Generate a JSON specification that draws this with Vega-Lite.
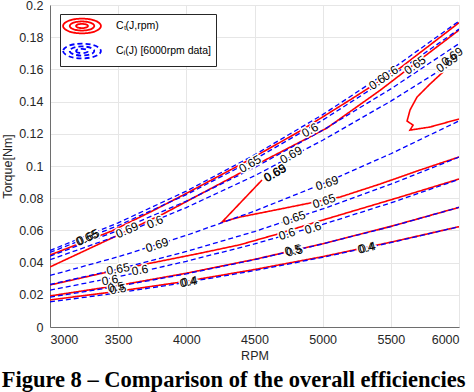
{
"$schema":"https://vega.github.io/schema/vega-lite/v6.json",
"width":409,"height":322,
"autosize":{"type":"none"},
"padding":{"left":50,"top":5,"right":15,"bottom":65},
"background":"white",
"config":{"view":{"stroke":"#e0e0e0","strokeWidth":1},"font":"Liberation Sans",
"axis":{"grid":true,"gridColor":"#e6e6e6","gridWidth":1,"domainColor":"#6e6e6e","domainWidth":1,"ticks":false,"labelFont":"Liberation Sans","labelFontSize":12.5,"labelColor":"#262626","titleFont":"Liberation Sans","titleFontSize":12.5,"titleFontWeight":"normal","titleColor":"#262626"}},
"title":{"text":"Figure 8 – Comparison of the overall efficiencies","orient":"bottom","anchor":"start","frame":"bounds","font":"Liberation Serif","fontSize":22.5,"fontWeight":"bold","color":"#000000","offset":7},
"datasets":{
"red":[
{"s":"CT","id":"R1","i":0,"x":3000,"y":0.0168},{"s":"CT","id":"R1","i":1,"x":3500,"y":0.0222},{"s":"CT","id":"R1","i":2,"x":4000,"y":0.0284},{"s":"CT","id":"R1","i":3,"x":4500,"y":0.0357},{"s":"CT","id":"R1","i":4,"x":5000,"y":0.0437},{"s":"CT","id":"R1","i":5,"x":5500,"y":0.0527},{"s":"CT","id":"R1","i":6,"x":6000,"y":0.0623},
{"s":"CT","id":"R2","i":0,"x":3000,"y":0.0193},{"s":"CT","id":"R2","i":1,"x":3500,"y":0.0258},{"s":"CT","id":"R2","i":2,"x":4000,"y":0.0334},{"s":"CT","id":"R2","i":3,"x":4500,"y":0.0420},{"s":"CT","id":"R2","i":4,"x":5000,"y":0.0517},{"s":"CT","id":"R2","i":5,"x":5500,"y":0.0625},{"s":"CT","id":"R2","i":6,"x":6000,"y":0.0743},
{"s":"CT","id":"R3","i":0,"x":3000,"y":0.0261},{"s":"CT","id":"R3","i":1,"x":3389,"y":0.0335},{"s":"CT","id":"R3","i":2,"x":3711,"y":0.0392},{"s":"CT","id":"R3","i":3,"x":4100,"y":0.0458},{"s":"CT","id":"R3","i":4,"x":4394,"y":0.0511},{"s":"CT","id":"R3","i":5,"x":4672,"y":0.0578},{"s":"CT","id":"R3","i":6,"x":4929,"y":0.0646},{"s":"CT","id":"R3","i":7,"x":5127,"y":0.0696},{"s":"CT","id":"R3","i":8,"x":5567,"y":0.0807},{"s":"CT","id":"R3","i":9,"x":6000,"y":0.0919},
{"s":"CT","id":"R4","i":0,"x":4555,"y":0.0913},{"s":"CT","id":"R4","i":1,"x":4262,"y":0.0652},{"s":"CT","id":"R4","i":2,"x":4394,"y":0.0683},{"s":"CT","id":"R4","i":3,"x":4614,"y":0.0720},{"s":"CT","id":"R4","i":4,"x":4907,"y":0.0770},{"s":"CT","id":"R4","i":5,"x":5127,"y":0.0807},{"s":"CT","id":"R4","i":6,"x":5421,"y":0.0888},{"s":"CT","id":"R4","i":7,"x":5714,"y":0.0975},{"s":"CT","id":"R4","i":8,"x":6000,"y":0.1056},
{"s":"CT","id":"R5","i":0,"x":3000,"y":0.0373},{"s":"CT","id":"R5","i":1,"x":3455,"y":0.0553},{"s":"CT","id":"R5","i":2,"x":3829,"y":0.0702},{"s":"CT","id":"R5","i":3,"x":4394,"y":0.0956},{"s":"CT","id":"R5","i":4,"x":5032,"y":0.1236},{"s":"CT","id":"R5","i":5,"x":5421,"y":0.1470},{"s":"CT","id":"R5","i":6,"x":5714,"y":0.1660},{"s":"CT","id":"R5","i":7,"x":6000,"y":0.1844},
{"s":"CT","id":"R6","i":0,"x":3000,"y":0.0447},{"s":"CT","id":"R6","i":1,"x":3450,"y":0.0595},{"s":"CT","id":"R6","i":2,"x":3750,"y":0.0720},{"s":"CT","id":"R6","i":3,"x":4000,"y":0.0830},{"s":"CT","id":"R6","i":4,"x":4400,"y":0.1010},{"s":"CT","id":"R6","i":5,"x":4830,"y":0.1215},{"s":"CT","id":"R6","i":6,"x":5200,"y":0.1410},{"s":"CT","id":"R6","i":7,"x":5570,"y":0.1610},{"s":"CT","id":"R6","i":8,"x":6000,"y":0.1890},
{"s":"CT","id":"R7","i":0,"x":5883,"y":0.1584},{"s":"CT","id":"R7","i":1,"x":5787,"y":0.1509},{"s":"CT","id":"R7","i":2,"x":5692,"y":0.1428},{"s":"CT","id":"R7","i":3,"x":5641,"y":0.1348},{"s":"CT","id":"R7","i":4,"x":5619,"y":0.1279},{"s":"CT","id":"R7","i":5,"x":5663,"y":0.1254},{"s":"CT","id":"R7","i":6,"x":5641,"y":0.1223},{"s":"CT","id":"R7","i":7,"x":5787,"y":0.1242},{"s":"CT","id":"R7","i":8,"x":6000,"y":0.1292}
],
"blue":[
{"s":"CI","id":"B1","i":0,"x":3000,"y":0.0156},{"s":"CI","id":"B1","i":1,"x":3500,"y":0.0212},{"s":"CI","id":"B1","i":2,"x":4000,"y":0.0277},{"s":"CI","id":"B1","i":3,"x":4500,"y":0.0350},{"s":"CI","id":"B1","i":4,"x":5000,"y":0.0433},{"s":"CI","id":"B1","i":5,"x":5500,"y":0.0524},{"s":"CI","id":"B1","i":6,"x":6000,"y":0.0623},
{"s":"CI","id":"B2","i":0,"x":3000,"y":0.0186},{"s":"CI","id":"B2","i":1,"x":3500,"y":0.0253},{"s":"CI","id":"B2","i":2,"x":4000,"y":0.0330},{"s":"CI","id":"B2","i":3,"x":4500,"y":0.0418},{"s":"CI","id":"B2","i":4,"x":5000,"y":0.0516},{"s":"CI","id":"B2","i":5,"x":5500,"y":0.0624},{"s":"CI","id":"B2","i":6,"x":6000,"y":0.0743},
{"s":"CI","id":"B3","i":0,"x":3000,"y":0.0229},{"s":"CI","id":"B3","i":1,"x":3500,"y":0.0312},{"s":"CI","id":"B3","i":2,"x":4000,"y":0.0408},{"s":"CI","id":"B3","i":3,"x":4500,"y":0.0516},{"s":"CI","id":"B3","i":4,"x":5000,"y":0.0637},{"s":"CI","id":"B3","i":5,"x":5500,"y":0.0771},{"s":"CI","id":"B3","i":6,"x":6000,"y":0.0917},
{"s":"CI","id":"B4","i":0,"x":3000,"y":0.0264},{"s":"CI","id":"B4","i":1,"x":3500,"y":0.0359},{"s":"CI","id":"B4","i":2,"x":4000,"y":0.0469},{"s":"CI","id":"B4","i":3,"x":4500,"y":0.0593},{"s":"CI","id":"B4","i":4,"x":5000,"y":0.0733},{"s":"CI","id":"B4","i":5,"x":5500,"y":0.0887},{"s":"CI","id":"B4","i":6,"x":6000,"y":0.1055},
{"s":"CI","id":"B5","i":0,"x":3000,"y":0.0320},{"s":"CI","id":"B5","i":1,"x":3500,"y":0.0436},{"s":"CI","id":"B5","i":2,"x":4000,"y":0.0569},{"s":"CI","id":"B5","i":3,"x":4500,"y":0.0720},{"s":"CI","id":"B5","i":4,"x":5000,"y":0.0889},{"s":"CI","id":"B5","i":5,"x":5500,"y":0.1076},{"s":"CI","id":"B5","i":6,"x":6000,"y":0.1280},
{"s":"CI","id":"B6","i":0,"x":3000,"y":0.0418},{"s":"CI","id":"B6","i":1,"x":3500,"y":0.0568},{"s":"CI","id":"B6","i":2,"x":4000,"y":0.0742},{"s":"CI","id":"B6","i":3,"x":4500,"y":0.0939},{"s":"CI","id":"B6","i":4,"x":5000,"y":0.1160},{"s":"CI","id":"B6","i":5,"x":5500,"y":0.1403},{"s":"CI","id":"B6","i":6,"x":5850,"y":0.1588},
{"s":"CI","id":"B7","i":0,"x":3000,"y":0.0440},{"s":"CI","id":"B7","i":1,"x":3500,"y":0.0599},{"s":"CI","id":"B7","i":2,"x":4000,"y":0.0782},{"s":"CI","id":"B7","i":3,"x":4500,"y":0.0990},{"s":"CI","id":"B7","i":4,"x":5000,"y":0.1222},{"s":"CI","id":"B7","i":5,"x":5500,"y":0.1479},{"s":"CI","id":"B7","i":6,"x":6000,"y":0.1760},
{"s":"CI","id":"B8b","i":0,"x":3000,"y":0.0463},{"s":"CI","id":"B8b","i":1,"x":3500,"y":0.0630},{"s":"CI","id":"B8b","i":2,"x":4000,"y":0.0822},{"s":"CI","id":"B8b","i":3,"x":4500,"y":0.1041},{"s":"CI","id":"B8b","i":4,"x":5000,"y":0.1285},{"s":"CI","id":"B8b","i":5,"x":5500,"y":0.1555},{"s":"CI","id":"B8b","i":6,"x":6000,"y":0.1850},
{"s":"CI","id":"B8","i":0,"x":3000,"y":0.0475},{"s":"CI","id":"B8","i":1,"x":3500,"y":0.0647},{"s":"CI","id":"B8","i":2,"x":4000,"y":0.0844},{"s":"CI","id":"B8","i":3,"x":4500,"y":0.1069},{"s":"CI","id":"B8","i":4,"x":5000,"y":0.1319},{"s":"CI","id":"B8","i":5,"x":5500,"y":0.1597},{"s":"CI","id":"B8","i":6,"x":6000,"y":0.1900}
],
"labA":[
{"t":"0.4","x":4012,"y":0.0279},{"t":"0.4","x":4023,"y":0.0283},
{"t":"0.5","x":3484,"y":0.0248},{"t":"0.5","x":3499,"y":0.0236},
{"t":"0.6","x":3440,"y":0.0292},{"t":"0.65","x":3499,"y":0.0360},{"t":"0.6","x":3660,"y":0.0354}
],
"labB":[
{"t":"0.4","x":5318,"y":0.0491},{"t":"0.4","x":5329,"y":0.0494},
{"t":"0.5","x":4782,"y":0.0478},{"t":"0.5","x":4793,"y":0.0472}
],
"labC":[
{"t":"0.69","x":3785,"y":0.0509},{"t":"0.6","x":4738,"y":0.0578},{"t":"0.6","x":4929,"y":0.0615},
{"t":"0.65","x":4790,"y":0.0677},{"t":"0.65","x":5010,"y":0.0782},{"t":"0.69","x":5032,"y":0.0894}
],
"labD":[
{"t":"0.65","x":3271,"y":0.0553},{"t":"0.65","x":3279,"y":0.0559},
{"t":"0.69","x":3565,"y":0.0602},{"t":"0.6","x":3770,"y":0.0652}
],
"labE":[
{"t":"0.65","x":4467,"y":0.1012},{"t":"0.65","x":4650,"y":0.0956},{"t":"0.69","x":4652,"y":0.0958},
{"t":"0.69","x":4768,"y":0.1068},{"t":"0.6","x":4907,"y":0.1223}
],
"labF":[
{"t":"0.6","x":5399,"y":0.1521},{"t":"0.6","x":5494,"y":0.1577},{"t":"0.65","x":5677,"y":0.1627},
{"t":"0.69","x":5912,"y":0.1639},{"t":"0.69","x":5950,"y":0.1680}
]
},
"encoding":{
"x":{"field":"x","type":"quantitative","title":"RPM","scale":{"domain":[3000,6000],"nice":false,"zero":false},"axis":{"values":[3000,3500,4000,4500,5000,5500,6000],"format":"d","labelPadding":6,"titlePadding":4}},
"y":{"field":"y","type":"quantitative","title":"Torque[Nm]","scale":{"domain":[0,0.2],"nice":false},"axis":{"values":[0,0.02,0.04,0.06,0.08,0.1,0.12,0.14,0.16,0.18,0.2],"format":".2~f","labelPadding":7,"titlePadding":4}}
},
"layer":[
{"data":{"name":"red"},"mark":{"type":"line","clip":true,"strokeWidth":1.6},
"encoding":{"detail":{"field":"id"},"order":{"field":"i","type":"quantitative"},
"stroke":{"field":"s","type":"nominal","scale":{"domain":["CT","CI"],"range":["#ff0000","#0000ff"]},
"legend":{"title":null,"orient":"none","legendX":10,"legendY":9,"symbolType":"M-2.7,0A2.7,1.05,0,1,0,2.7,0A2.7,1.05,0,1,0,-2.7,0M-1.75,0A1.75,0.65,0,1,0,1.75,0A1.75,0.65,0,1,0,-1.75,0M-0.85,0A0.85,0.3,0,1,0,0.85,0A0.85,0.3,0,1,0,-0.85,0","symbolSize":196,"symbolStrokeWidth":1.8,"symbolOffset":10,"labelOffset":26,"padding":4,"rowPadding":3,"strokeColor":"#262626","fillColor":"white","labelFont":"Liberation Sans","labelFontSize":10.5,"labelColor":"#000000","labelExpr":"datum.label == 'CT' ? 'Cₜ(J,rpm)' : 'Cᵢ(J) [6000rpm data]'","encode":{"symbols":{"update":{"fill":{"value":"transparent"}}}}}},
"strokeDash":{"field":"s","type":"nominal","scale":{"domain":["CT","CI"],"range":[[1,0],[5,3]]},
"legend":{"title":null,"orient":"none","legendX":10,"legendY":9,"symbolType":"M-2.7,0A2.7,1.05,0,1,0,2.7,0A2.7,1.05,0,1,0,-2.7,0M-1.75,0A1.75,0.65,0,1,0,1.75,0A1.75,0.65,0,1,0,-1.75,0M-0.85,0A0.85,0.3,0,1,0,0.85,0A0.85,0.3,0,1,0,-0.85,0","symbolSize":196,"symbolStrokeWidth":1.8,"symbolOffset":10,"labelOffset":26,"padding":4,"rowPadding":3,"strokeColor":"#262626","fillColor":"white","labelFont":"Liberation Sans","labelFontSize":10.5,"labelColor":"#000000","labelExpr":"datum.label == 'CT' ? 'Cₜ(J,rpm)' : 'Cᵢ(J) [6000rpm data]'","encode":{"symbols":{"update":{"fill":{"value":"transparent"}}}}}}}},
{"data":{"name":"blue"},"mark":{"type":"line","clip":true,"strokeWidth":1.3},
"encoding":{"detail":{"field":"id"},"order":{"field":"i","type":"quantitative"},
"stroke":{"field":"s","type":"nominal"},"strokeDash":{"field":"s","type":"nominal"}}},
{"data":{"name":"labA"},"layer":[
{"mark":{"type":"text","angle":350,"font":"Liberation Sans","fontSize":12,"fill":"white","stroke":"white","strokeWidth":3},"encoding":{"text":{"field":"t"}}},
{"mark":{"type":"text","angle":350,"font":"Liberation Sans","fontSize":12,"fill":"black"},"encoding":{"text":{"field":"t"}}}]},
{"data":{"name":"labB"},"layer":[
{"mark":{"type":"text","angle":347,"font":"Liberation Sans","fontSize":12,"fill":"white","stroke":"white","strokeWidth":3},"encoding":{"text":{"field":"t"}}},
{"mark":{"type":"text","angle":347,"font":"Liberation Sans","fontSize":12,"fill":"black"},"encoding":{"text":{"field":"t"}}}]},
{"data":{"name":"labC"},"layer":[
{"mark":{"type":"text","angle":342,"font":"Liberation Sans","fontSize":12,"fill":"white","stroke":"white","strokeWidth":3},"encoding":{"text":{"field":"t"}}},
{"mark":{"type":"text","angle":342,"font":"Liberation Sans","fontSize":12,"fill":"black"},"encoding":{"text":{"field":"t"}}}]},
{"data":{"name":"labD"},"layer":[
{"mark":{"type":"text","angle":336,"font":"Liberation Sans","fontSize":12,"fill":"white","stroke":"white","strokeWidth":3},"encoding":{"text":{"field":"t"}}},
{"mark":{"type":"text","angle":336,"font":"Liberation Sans","fontSize":12,"fill":"black"},"encoding":{"text":{"field":"t"}}}]},
{"data":{"name":"labE"},"layer":[
{"mark":{"type":"text","angle":330,"font":"Liberation Sans","fontSize":12,"fill":"white","stroke":"white","strokeWidth":3},"encoding":{"text":{"field":"t"}}},
{"mark":{"type":"text","angle":330,"font":"Liberation Sans","fontSize":12,"fill":"black"},"encoding":{"text":{"field":"t"}}}]},
{"data":{"name":"labF"},"layer":[
{"mark":{"type":"text","angle":325,"font":"Liberation Sans","fontSize":12,"fill":"white","stroke":"white","strokeWidth":3},"encoding":{"text":{"field":"t"}}},
{"mark":{"type":"text","angle":325,"font":"Liberation Sans","fontSize":12,"fill":"black"},"encoding":{"text":{"field":"t"}}}]}
]
}
